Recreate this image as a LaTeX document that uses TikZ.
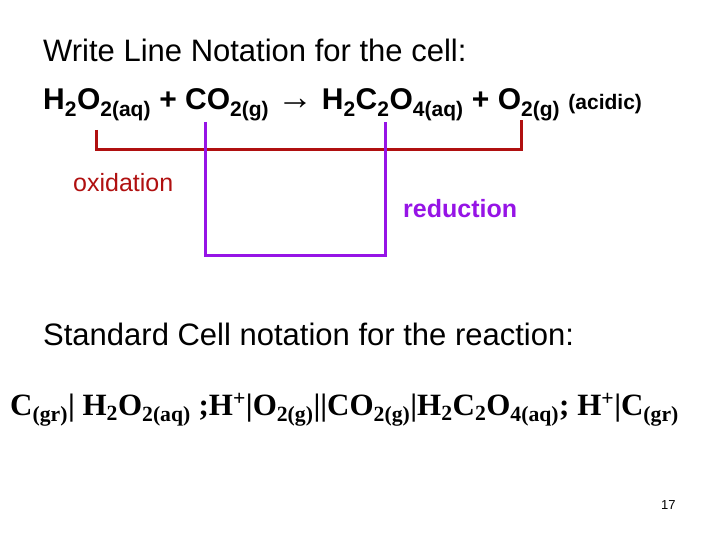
\documentclass[tikz,border=0pt]{standalone}
\usepackage{fontspec}
\setmainfont{Liberation Sans}
\newfontfamily\tnr{Liberation Serif}
\newcommand\sbs[1]{\textsubscript{#1}}
\newcommand\sps[1]{\textsuperscript{#1}}
\definecolor{oxred}{RGB}{176,16,16}
\definecolor{redpur}{RGB}{150,20,230}
\begin{document}
\begin{tikzpicture}[x=1pt,y=-1pt,
  txt/.style={anchor=base west,inner sep=0pt},
  brk/.style={line width=3pt}]
\useasboundingbox (0,0) rectangle (720,540);
\node[txt,font=\fontsize{31}{34}\selectfont] (t1) at (43,62) {Write Line Notation for the cell:};
\node[txt,font=\bfseries\fontsize{30}{34}\selectfont] (eq) at (43,110) {H\sbs{2}O\sbs{2(aq)} + CO\sbs{2(g)} {\fontsize{36}{36}\selectfont\symbol{"2192}} H\sbs{2}C\sbs{2}O\sbs{4(aq)} + O\sbs{2(g)} {\fontsize{21}{24}\selectfont(acidic)}};
\draw[brk,oxred] (96,130) -- (96,150) -- (521,150) -- (521,120);
\draw[brk,redpur] (205,122) -- (205,255) -- (385,255) -- (385,122);
\node[txt,oxred,font=\fontsize{25}{28}\selectfont] (ox) at (73,192) {oxidation};
\node[txt,redpur,font=\bfseries\fontsize{25}{28}\selectfont] (re) at (403,218) {reduction};
\node[txt,font=\fontsize{31}{34}\selectfont] (t2) at (43,345) {Standard Cell notation for the reaction:};
\node[txt,font=\tnr\bfseries\fontsize{31}{34}\selectfont] (cn) at (10,415) {C\sbs{(gr)}| H\sbs{2}O\sbs{2(aq)} ;H\sps{+}|O\sbs{2(g)}||CO\sbs{2(g)}|H\sbs{2}C\sbs{2}O\sbs{4(aq)}; H\sps{+}|C\sbs{(gr)}};
\node[txt,font=\fontsize{13}{15}\selectfont] (pg) at (661,509) {17};
\end{tikzpicture}
\end{document}
